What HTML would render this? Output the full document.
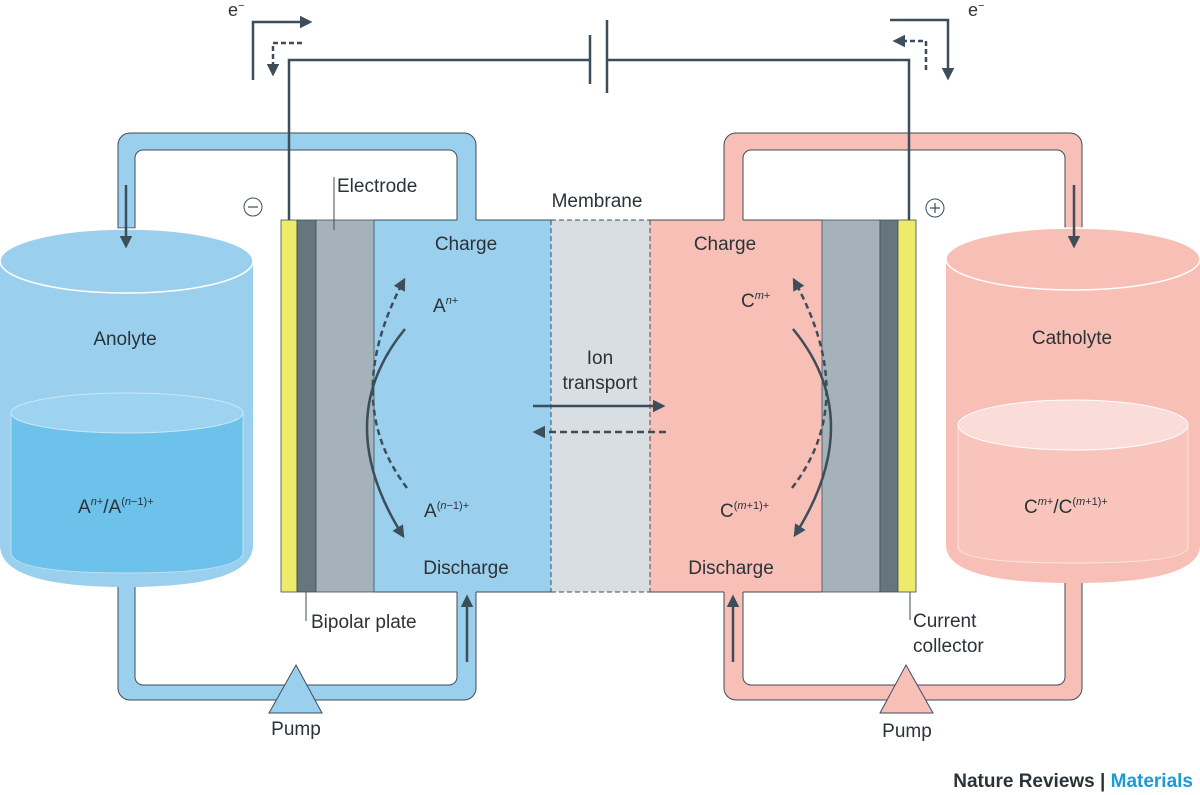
<!DOCTYPE html>
<html><head><meta charset="utf-8"><style>
html,body{margin:0;padding:0;background:#fff}
svg{display:block}
text{font-family:"Liberation Sans",sans-serif;fill:#2b3338}
</style></head><body>
<svg width="1200" height="795" viewBox="0 0 1200 795" xmlns="http://www.w3.org/2000/svg">
<defs>
<marker id="ah" viewBox="0 0 10 10" refX="8" refY="5" markerWidth="5" markerHeight="5" orient="auto"><path d="M0,0L10,5L0,10z" fill="#3d4e5a"/></marker>
</defs>
<!-- left pipes -->
<path d="M118,228 V145 a12,12 0 0 1 12,-12 H464 a12,12 0 0 1 12,12 V222 H457 V158 a8,8 0 0 0 -8,-8 H143 a8,8 0 0 0 -8,8 V228 z" fill="#9bcfee" stroke="#3d4e5a" stroke-width="1"/>
<path d="M118,575 V688 a12,12 0 0 0 12,12 H464 a12,12 0 0 0 12,-12 V590 H457 V677 a8,8 0 0 1 -8,8 H143 a8,8 0 0 1 -8,-8 V575 z" fill="#9bcfee" stroke="#3d4e5a" stroke-width="1"/>
<!-- right pipes -->
<path d="M1082,228 V145 a12,12 0 0 0 -12,-12 H736 a12,12 0 0 0 -12,12 V222 H743 V158 a8,8 0 0 1 8,-8 H1057 a8,8 0 0 1 8,8 V228 z" fill="#f8bfb6" stroke="#3d4e5a" stroke-width="1"/>
<path d="M1082,575 V688 a12,12 0 0 1 -12,12 H736 a12,12 0 0 1 -12,-12 V590 H743 V677 a8,8 0 0 0 8,8 H1057 a8,8 0 0 0 8,-8 V575 z" fill="#f8bfb6" stroke="#3d4e5a" stroke-width="1"/>
<!-- left tank -->
<path d="M0,262 V545 Q0,587 126,587 Q253,587 253,545 V262 z" fill="#9bcfee"/>
<ellipse cx="126.5" cy="261" rx="126.5" ry="32" fill="#9bcfee" stroke="#fff" stroke-width="1.5"/>
<path d="M11,413 V552 Q11,573 127,573 Q243,573 243,552 V413 z" fill="#6cc2ea" stroke="#b8e0f5" stroke-width="1"/>
<ellipse cx="127" cy="413" rx="116" ry="20" fill="#9dd2f0" stroke="#c8e8f8" stroke-width="1"/>
<!-- right tank -->
<path d="M946,262 V545 Q946,583 1073,583 Q1200,583 1200,545 V262 z" fill="#f8bfb6"/>
<ellipse cx="1073" cy="259" rx="127" ry="31" fill="#f8bfb6" stroke="#fff" stroke-width="1.5"/>
<path d="M958,425 V547 Q958,563 1073,563 Q1188,563 1188,547 V425 z" fill="#f8c4bc" stroke="#fde3df" stroke-width="1"/>
<ellipse cx="1073" cy="425" rx="115" ry="25" fill="#fadcd8" stroke="#fff" stroke-width="1"/>
<!-- cell -->
<rect x="374" y="220" width="177" height="372" fill="#9bcfee"/>
<rect x="551" y="220" width="99" height="372" fill="#d8dee2"/>
<rect x="650" y="220" width="172" height="372" fill="#f8bfb6"/>
<rect x="281" y="220" width="16" height="372" fill="#eeea6a" stroke="#3d4e5a" stroke-width="0.8"/>
<rect x="297" y="220" width="19" height="372" fill="#66767f" stroke="#3d4e5a" stroke-width="0.8"/>
<rect x="316" y="220" width="58" height="372" fill="#a5b2ba" stroke="#3d4e5a" stroke-width="0.8"/>
<rect x="822" y="220" width="58" height="372" fill="#a5b2ba" stroke="#3d4e5a" stroke-width="0.8"/>
<rect x="880" y="220" width="18" height="372" fill="#66767f" stroke="#3d4e5a" stroke-width="0.8"/>
<rect x="898" y="220" width="18" height="372" fill="#eeea6a" stroke="#3d4e5a" stroke-width="0.8"/>
<path d="M374,220H457M476,220H551M374,592H457M476,592H551M650,220H724M743,220H822M650,592H724M743,592H822" stroke="#3d4e5a" stroke-width="1"/>
<path d="M551,220V592M650,220V592M551,220H650M551,592H650" stroke="#3d4e5a" stroke-width="1" stroke-dasharray="5,3"/>
<!-- wires -->
<path d="M289,220V60H590M607,60H909V220" fill="none" stroke="#3d4e5a" stroke-width="2.5"/>
<path d="M590,35V84M607,20V93" stroke="#3d4e5a" stroke-width="2.5"/>
<!-- e arrows -->
<path d="M253,80V22H310" fill="none" stroke="#3d4e5a" stroke-width="2.5" marker-end="url(#ah)"/>
<path d="M302,43H273V74" fill="none" stroke="#3d4e5a" stroke-width="2.5" stroke-dasharray="5,3" marker-end="url(#ah)"/>
<path d="M890,20H948V78" fill="none" stroke="#3d4e5a" stroke-width="2.5" marker-end="url(#ah)"/>
<path d="M926,70V41H895" fill="none" stroke="#3d4e5a" stroke-width="2.5" stroke-dasharray="5,3" marker-end="url(#ah)"/>
<text x="228" y="16" font-size="18">e<tspan font-size="11" dy="-7">−</tspan></text>
<text x="968" y="16" font-size="18">e<tspan font-size="11" dy="-7">−</tspan></text>
<!-- flow arrows -->
<path d="M126,185V246" stroke="#3d4e5a" stroke-width="2.5" marker-end="url(#ah)"/>
<path d="M1074,185V246" stroke="#3d4e5a" stroke-width="2.5" marker-end="url(#ah)"/>
<path d="M467,662V597" stroke="#3d4e5a" stroke-width="2.5" marker-end="url(#ah)"/>
<path d="M733,662V597" stroke="#3d4e5a" stroke-width="2.5" marker-end="url(#ah)"/>
<!-- pumps -->
<path d="M296,665L322,713H269z" fill="#9bcfee" stroke="#3d4e5a" stroke-width="1"/>
<path d="M906,665L933,713H880z" fill="#f8bfb6" stroke="#3d4e5a" stroke-width="1"/>
<!-- ion transport arrows -->
<path d="M533,406H663" stroke="#3d4e5a" stroke-width="2.5" marker-end="url(#ah)"/>
<path d="M666,432H535" stroke="#3d4e5a" stroke-width="2.5" stroke-dasharray="7,4" marker-end="url(#ah)"/>
<!-- curved arrows -->
<path d="M405,329Q330,420 403,536" fill="none" stroke="#3d4e5a" stroke-width="2.5" marker-end="url(#ah)"/>
<path d="M407,488Q340,400 404,280" fill="none" stroke="#3d4e5a" stroke-width="2.5" stroke-dasharray="6,4" marker-end="url(#ah)"/>
<path d="M793,329Q868,420 795,535" fill="none" stroke="#3d4e5a" stroke-width="2.5" marker-end="url(#ah)"/>
<path d="M792,488Q860,400 794,280" fill="none" stroke="#3d4e5a" stroke-width="2.5" stroke-dasharray="6,4" marker-end="url(#ah)"/>
<!-- label lines -->
<path d="M334,177V230M306,592V621M910,592V620" stroke="#3d4e5a" stroke-width="1"/>
<circle cx="253" cy="207" r="9" fill="none" stroke="#3d4e5a" stroke-width="1"/>
<path d="M248,207H258" stroke="#3d4e5a" stroke-width="1.2"/>
<circle cx="935" cy="208" r="9" fill="none" stroke="#3d4e5a" stroke-width="1"/>
<path d="M930,208H940M935,203V213" stroke="#3d4e5a" stroke-width="1.2"/>
<!-- text -->
<g font-size="19">
<text x="337" y="192">Electrode</text>
<text x="597" y="207" text-anchor="middle">Membrane</text>
<text x="466" y="250" text-anchor="middle">Charge</text>
<text x="466" y="574" text-anchor="middle">Discharge</text>
<text x="725" y="250" text-anchor="middle">Charge</text>
<text x="731" y="574" text-anchor="middle">Discharge</text>
<text x="600" y="364" text-anchor="middle">Ion</text>
<text x="600" y="389" text-anchor="middle">transport</text>
<text x="125" y="345" text-anchor="middle">Anolyte</text>
<text x="1072" y="344" text-anchor="middle">Catholyte</text>
<text x="311" y="628">Bipolar plate</text>
<text x="913" y="627">Current</text>
<text x="913" y="652">collector</text>
<text x="296" y="735" text-anchor="middle">Pump</text>
<text x="907" y="737" text-anchor="middle">Pump</text>
<text x="433" y="312">A<tspan font-size="11" dy="-8" font-style="italic">n</tspan><tspan font-size="11">+</tspan></text>
<text x="424" y="517">A<tspan font-size="11" dy="-8">(<tspan font-style="italic">n</tspan>−1)+</tspan></text>
<text x="741" y="307">C<tspan font-size="11" dy="-8" font-style="italic">m</tspan><tspan font-size="11">+</tspan></text>
<text x="720" y="517">C<tspan font-size="11" dy="-8">(<tspan font-style="italic">m</tspan>+1)+</tspan></text>
<text x="78" y="513">A<tspan font-size="11" dy="-8" font-style="italic">n</tspan><tspan font-size="11">+</tspan><tspan dy="8">/A</tspan><tspan font-size="11" dy="-8">(<tspan font-style="italic">n</tspan>−1)+</tspan></text>
<text x="1024" y="513">C<tspan font-size="11" dy="-8" font-style="italic">m</tspan><tspan font-size="11">+</tspan><tspan dy="8">/C</tspan><tspan font-size="11" dy="-8">(<tspan font-style="italic">m</tspan>+1)+</tspan></text>
</g>
<text x="1193" y="787" font-size="19" font-weight="bold" text-anchor="end">Nature Reviews | <tspan fill="#1a9ad6">Materials</tspan></text>
</svg>
</body></html>
